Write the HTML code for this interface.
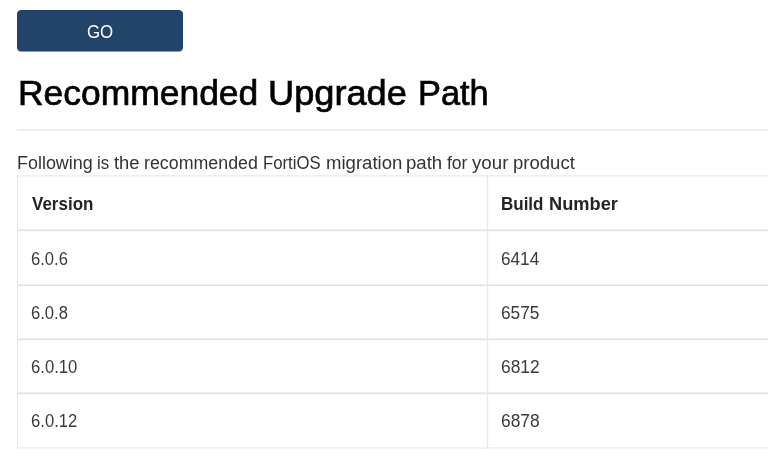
<!DOCTYPE html>
<html lang="en">
<head>
<meta charset="utf-8">
<title>Recommended Upgrade Path</title>
<style>
  html, body { margin: 0; padding: 0; background: #fff; }
  html { width: 768px; height: 459px; overflow: hidden; }
  body {
    width: 768px; height: 459px; overflow: hidden; position: relative;
    font-family: "Liberation Sans", sans-serif; font-size: 18.3px; line-height: 1;
    color: #212529;
  }
  /* each word is nudged onto the measured pixel grid of the reference */
  .t { display: inline-block; position: relative; white-space: nowrap; line-height: 1; transform-origin: 0 0; }
  .go {
    position: absolute; left: 17px; top: 10px; width: 166px; height: 41px;
    box-sizing: border-box; border: 1px solid #1f4068; border-radius: 4px;
    background: #22436a; box-shadow: 0 1px 0 0 rgba(31,64,104,.5);
    margin: 0; padding: 0; cursor: pointer; text-align: center;
    font-family: inherit; font-size: 19px; line-height: 39px; color: #fff;
  }
  h1 {
    position: absolute; left: 17px; top: 68px; width: 751px; height: 48px;
    margin: 0; padding: 0; white-space: nowrap;
    font-size: 35.3px; line-height: 48px; font-weight: 400;
    color: #000; -webkit-text-stroke: 0.7px #000;
  }
  hr {
    position: absolute; left: 17px; right: 0; top: 129px; height: 2px;
    margin: 0; border: 0; background: #eee;
  }
  p {
    position: absolute; left: 17px; top: 150px; width: 751px; height: 25px;
    margin: 0; padding: 0; white-space: nowrap; line-height: 25px; color: #333;
  }
  .grid { position: absolute; left: 0; top: 0; width: 768px; height: 459px; }
  .ln { position: absolute; left: 17px; right: 0; height: 1px; }
  .vl { position: absolute; top: 175px; height: 274px; width: 1px; }
  table {
    position: absolute; left: 17px; top: 175px; width: 751px;
    border-collapse: collapse; border-spacing: 0; table-layout: fixed;
  }
  th, td {
    padding: 0 0 0 15px; border: 0; height: 54px; white-space: nowrap;
    text-align: left; vertical-align: middle;
  }
  tr.h55 th, tr.h55 td { height: 55px; }
  col.c1 { width: 470px; }
  th { font-weight: 700; color: #212529; }
  td { font-weight: 400; color: #3a3a3a; }
</style>
</head>
<body>
  <button class="go" type="button"><span class="t" style="left:1.89px;top:1.00px;transform:scaleX(0.8873)">GO</span></button>
  <h1><span class="t" style="left:0.54px;top:1.00px;transform:scaleX(1.0038)">Recommended</span> <span class="t" style="left:2.16px;top:1.00px;transform:scaleX(1.0252)">Upgrade</span> <span class="t" style="left:6.24px;top:1.00px;transform:scaleX(0.9725)">Path</span></h1>
  <hr>
  <p><span class="t" style="left:0.03px;top:0.00px;transform:scaleX(0.9805)">Following</span> <span class="t" style="left:-2.28px;top:0.00px;transform:scaleX(0.9200)">is</span> <span class="t" style="left:-3.17px;top:0.00px;transform:scaleX(1.0041)">the</span> <span class="t" style="left:-4.16px;top:0.00px;transform:scaleX(0.9747)">recommended</span> <span class="t" style="left:-6.76px;top:0.00px;transform:scaleX(0.9152)">FortiOS</span> <span class="t" style="left:-12.24px;top:0.00px;transform:scaleX(1.0151)">migration</span> <span class="t" style="left:-12.02px;top:0.00px;transform:scaleX(1.0180)">path</span> <span class="t" style="left:-12.18px;top:0.00px;transform:scaleX(0.9590)">for</span> <span class="t" style="left:-13.84px;top:0.00px;transform:scaleX(1.0229)">your</span> <span class="t" style="left:-13.07px;top:0.00px;transform:scaleX(1.0143)">product</span></p>
  <div class="grid">
    <div class="vl" style="left:18px;background:#f8f9fa"></div>
    <div class="vl" style="left:486px;background:#f9fafa"></div>
    <div class="vl" style="left:488px;background:#fafbfb"></div>
    <div class="ln" style="top:176px;background:#f5f6f7"></div>
    <div class="ln" style="top:231px;background:#f9fafb"></div>
    <div class="ln" style="top:286px;background:#f9fafb"></div>
    <div class="ln" style="top:340px;background:#f9fafb"></div>
    <div class="ln" style="top:394px;background:#f9fafb"></div>
    <div class="ln" style="top:175px;background:#eeeff1"></div>
    <div class="ln" style="top:229px;background:#eceef0"></div>
    <div class="ln" style="top:284px;background:#eceef0"></div>
    <div class="ln" style="top:338px;background:#eceef0"></div>
    <div class="ln" style="top:392px;background:#eceef0"></div>
    <div class="ln" style="top:447px;background:#f0f1f2"></div>
    <div class="ln" style="top:448px;background:#f1f2f3"></div>
    <div class="vl" style="left:17px;background:#e5e8eb"></div>
    <div class="vl" style="left:487px;background:#e6e9ec"></div>
    <div class="ln" style="top:230px;background:#dfe2e6"></div>
    <div class="ln" style="top:285px;background:#dfe2e6"></div>
    <div class="ln" style="top:339px;background:#dfe2e6"></div>
    <div class="ln" style="top:393px;background:#dfe2e6"></div>
  </div>
  <table>
    <colgroup><col class="c1"><col></colgroup>
    <thead>
      <tr class="h55"><th><span class="t" style="left:-0.13px;top:1.66px;transform:scaleX(0.9297)">Version</span></th><th><span class="t" style="left:-1.06px;top:1.66px;transform:scaleX(0.9295)">Build</span> <span class="t" style="left:-4.05px;top:1.66px;transform:scaleX(0.9970)">Number</span></th></tr>
    </thead>
    <tbody>
      <tr class="h55"><td><span class="t" style="left:-0.91px;top:1.66px;transform:scaleX(0.9084)">6.0.6</span></td><td><span class="t" style="left:-1.24px;top:1.66px;transform:scaleX(0.9389)">6414</span></td></tr>
      <tr><td><span class="t" style="left:-0.91px;top:1.16px;transform:scaleX(0.9084)">6.0.8</span></td><td><span class="t" style="left:-1.24px;top:1.16px;transform:scaleX(0.9449)">6575</span></td></tr>
      <tr><td><span class="t" style="left:-0.91px;top:1.16px;transform:scaleX(0.9117)">6.0.10</span></td><td><span class="t" style="left:-1.25px;top:1.16px;transform:scaleX(0.9510)">6812</span></td></tr>
      <tr class="h55"><td><span class="t" style="left:-0.91px;top:0.66px;transform:scaleX(0.9102)">6.0.12</span></td><td><span class="t" style="left:-1.25px;top:0.66px;transform:scaleX(0.9510)">6878</span></td></tr>
    </tbody>
  </table>
</body>
</html>
